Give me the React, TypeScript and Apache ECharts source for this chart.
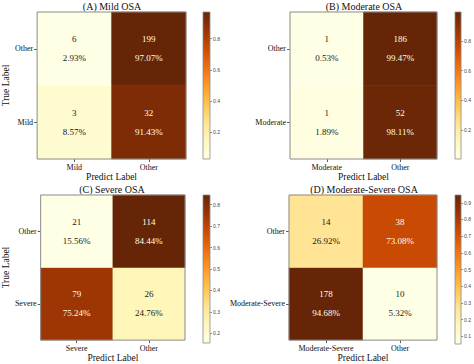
import React, { useEffect, useRef } from "react";
import * as echarts from "echarts";

// ---- Data ----
const panelTitles = ["(A) Mild OSA", "(B) Moderate OSA", "(C) Severe OSA", "(D) Moderate-Severe OSA"];
const classNames = ["Mild", "Moderate", "Severe", "Moderate-Severe"];
const otherName = "Other";
// rows: [true class, true Other]; cols: [pred class, pred Other]
const mildCounts = [[3, 32], [6, 199]];
const moderateCounts = [[1, 52], [1, 186]];
const severeCounts = [[79, 26], [21, 114]];
const modSevereCounts = [[178, 10], [14, 38]];
const allCounts = [mildCounts, moderateCounts, severeCounts, modSevereCounts];
const colorbarTicksA = [0.2, 0.4, 0.6, 0.8];
const colorbarTicksB = [0.2, 0.4, 0.6, 0.8];
const colorbarTicksC = [0.2, 0.3, 0.4, 0.5, 0.6, 0.7, 0.8];
const colorbarTicksD = [0.1, 0.2, 0.3, 0.4, 0.5, 0.6, 0.7, 0.8, 0.9];
const allTicks = [colorbarTicksA, colorbarTicksB, colorbarTicksC, colorbarTicksD];

// ---- Style / layout ----
const YLORBR = ["#ffffe5", "#fff7bc", "#fee391", "#fec44f", "#fe9929", "#ec7014", "#cc4c02", "#993404", "#662506"];
const FONT = "Liberation Serif";
const heatGrids = [
  { left: 37, top: 12, width: 149, height: 147 },
  { left: 290, top: 12, width: 147, height: 147 },
  { left: 37, top: 195, width: 148, height: 148 },
  { left: 289, top: 195, width: 148, height: 149 },
];
const barGrids = [
  { left: 203, top: 12, width: 7, height: 147 },
  { left: 455, top: 12, width: 8, height: 147 },
  { left: 203, top: 195, width: 7, height: 148 },
  { left: 455, top: 195, width: 8, height: 149 },
];
const titlePos = [
  [112, 6],
  [364, 6],
  [112, 189],
  [364, 189],
];

function buildOption() {
  const grid: any[] = [];
  const xAxis: any[] = [];
  const yAxis: any[] = [];
  const series: any[] = [];
  const visualMap: any[] = [];
  const graphic: any[] = [];
  const ranges: number[][] = [];

  allCounts.forEach((counts, i) => {
    const norm = counts.map((row) => {
      const s = row[0] + row[1];
      return row.map((v) => v / s);
    });
    const flat = norm.flat();
    const vmin = Math.min(...flat);
    const vmax = Math.max(...flat);
    ranges.push([vmin, vmax]);
    const thresh = (vmin + vmax) / 2;
    const cats = [classNames[i], otherName];
    grid.push({ ...heatGrids[i], show: true, borderColor: "#8a8a8a", borderWidth: 1, backgroundColor: "transparent", z: 10 });
    xAxis.push({
      type: "category",
      gridIndex: i,
      data: cats,
      axisLine: { show: false },
      axisTick: { show: true, alignWithLabel: true, length: 3, lineStyle: { color: "#333", width: 0.8 } },
      axisLabel: { fontSize: 8, fontFamily: FONT, color: "#111", margin: 4 },
      splitLine: { show: false },
      name: "Predict Label",
      nameLocation: "middle",
      nameGap: 12,
      nameTextStyle: { fontSize: 9.5, fontFamily: FONT, color: "#111" },
    });
    yAxis.push({
      type: "category",
      gridIndex: i,
      data: cats,
      axisLine: { show: false },
      axisTick: { show: true, alignWithLabel: true, length: 3, lineStyle: { color: "#333", width: 0.8 } },
      axisLabel: { fontSize: 8, fontFamily: FONT, color: "#111", margin: 4 },
      splitLine: { show: false },
      name: i % 2 === 0 ? "True Label" : "",
      nameLocation: "middle",
      nameGap: 24,
      nameTextStyle: { fontSize: 9.5, fontFamily: FONT, color: "#111" },
    });
    const data: any[] = [];
    norm.forEach((row, r) => {
      row.forEach((v, c) => {
        data.push({
          value: [c, r, v],
          cnt: counts[r][c],
          label: { color: v < thresh ? "#1a1a1a" : "#ffffe5" },
        });
      });
    });
    series.push({
      type: "heatmap",
      xAxisIndex: i,
      yAxisIndex: i,
      data,
      label: {
        show: true,
        fontSize: 9,
        fontFamily: FONT,
        lineHeight: 19,
        formatter: (p: any) => `${p.data.cnt}\n${(p.value[2] * 100).toFixed(2)}%`,
      },
      itemStyle: { borderWidth: 0 },
      emphasis: { disabled: true },
    });
    visualMap.push({
      type: "continuous",
      show: false,
      seriesIndex: i,
      dimension: 2,
      min: vmin,
      max: vmax,
      inRange: { color: YLORBR },
    });
    graphic.push({
      type: "text",
      x: titlePos[i][0],
      y: titlePos[i][1],
      style: { text: panelTitles[i], fontSize: 10, fontFamily: FONT, fill: "#111", align: "center", verticalAlign: "middle" },
    });
  });

  // colorbars
  allTicks.forEach((ticks, i) => {
    const gi = 4 + i;
    const [vmin, vmax] = ranges[i];
    grid.push({ ...barGrids[i], show: true, borderColor: "#8a8a8a", borderWidth: 0.8, backgroundColor: "transparent", z: 10 });
    xAxis.push({ type: "category", gridIndex: gi, data: [""], show: false });
    yAxis.push({
      type: "value",
      gridIndex: gi,
      min: vmin,
      max: vmax,
      position: "right",
      axisLine: { show: false },
      splitLine: { show: false },
      axisTick: { show: true, length: 2, customValues: ticks, lineStyle: { color: "#444", width: 0.6 } },
      axisLabel: { fontSize: 5, margin: 3, color: "#444", customValues: ticks, formatter: (v: number) => v.toFixed(1) },
    });
    series.push({
      type: "bar",
      xAxisIndex: gi,
      yAxisIndex: gi,
      stack: "cb" + i,
      data: [vmin],
      barWidth: "100%",
      itemStyle: { color: "rgba(0,0,0,0)" },
      silent: true,
    });
    series.push({
      type: "bar",
      xAxisIndex: gi,
      yAxisIndex: gi,
      stack: "cb" + i,
      data: [vmax - vmin],
      barWidth: "100%",
      silent: true,
      itemStyle: {
        color: {
          type: "linear",
          x: 0,
          y: 1,
          x2: 0,
          y2: 0,
          colorStops: YLORBR.map((c, k) => ({ offset: k / (YLORBR.length - 1), color: c })),
        },
      },
    });
  });

  return {
    animation: false,
    backgroundColor: "#ffffff",
    grid,
    xAxis,
    yAxis,
    visualMap,
    series,
    graphic,
  };
}

export default function App() {
  const ref = useRef<HTMLDivElement>(null);
  useEffect(() => {
    if (!ref.current) return;
    const chart = echarts.init(ref.current, undefined, { renderer: "svg" });
    chart.setOption(buildOption() as any);
    return () => chart.dispose();
  }, []);
  return <div ref={ref} style={{ position: "fixed", left: 0, top: 0, width: 474, height: 364 }} />;
}
